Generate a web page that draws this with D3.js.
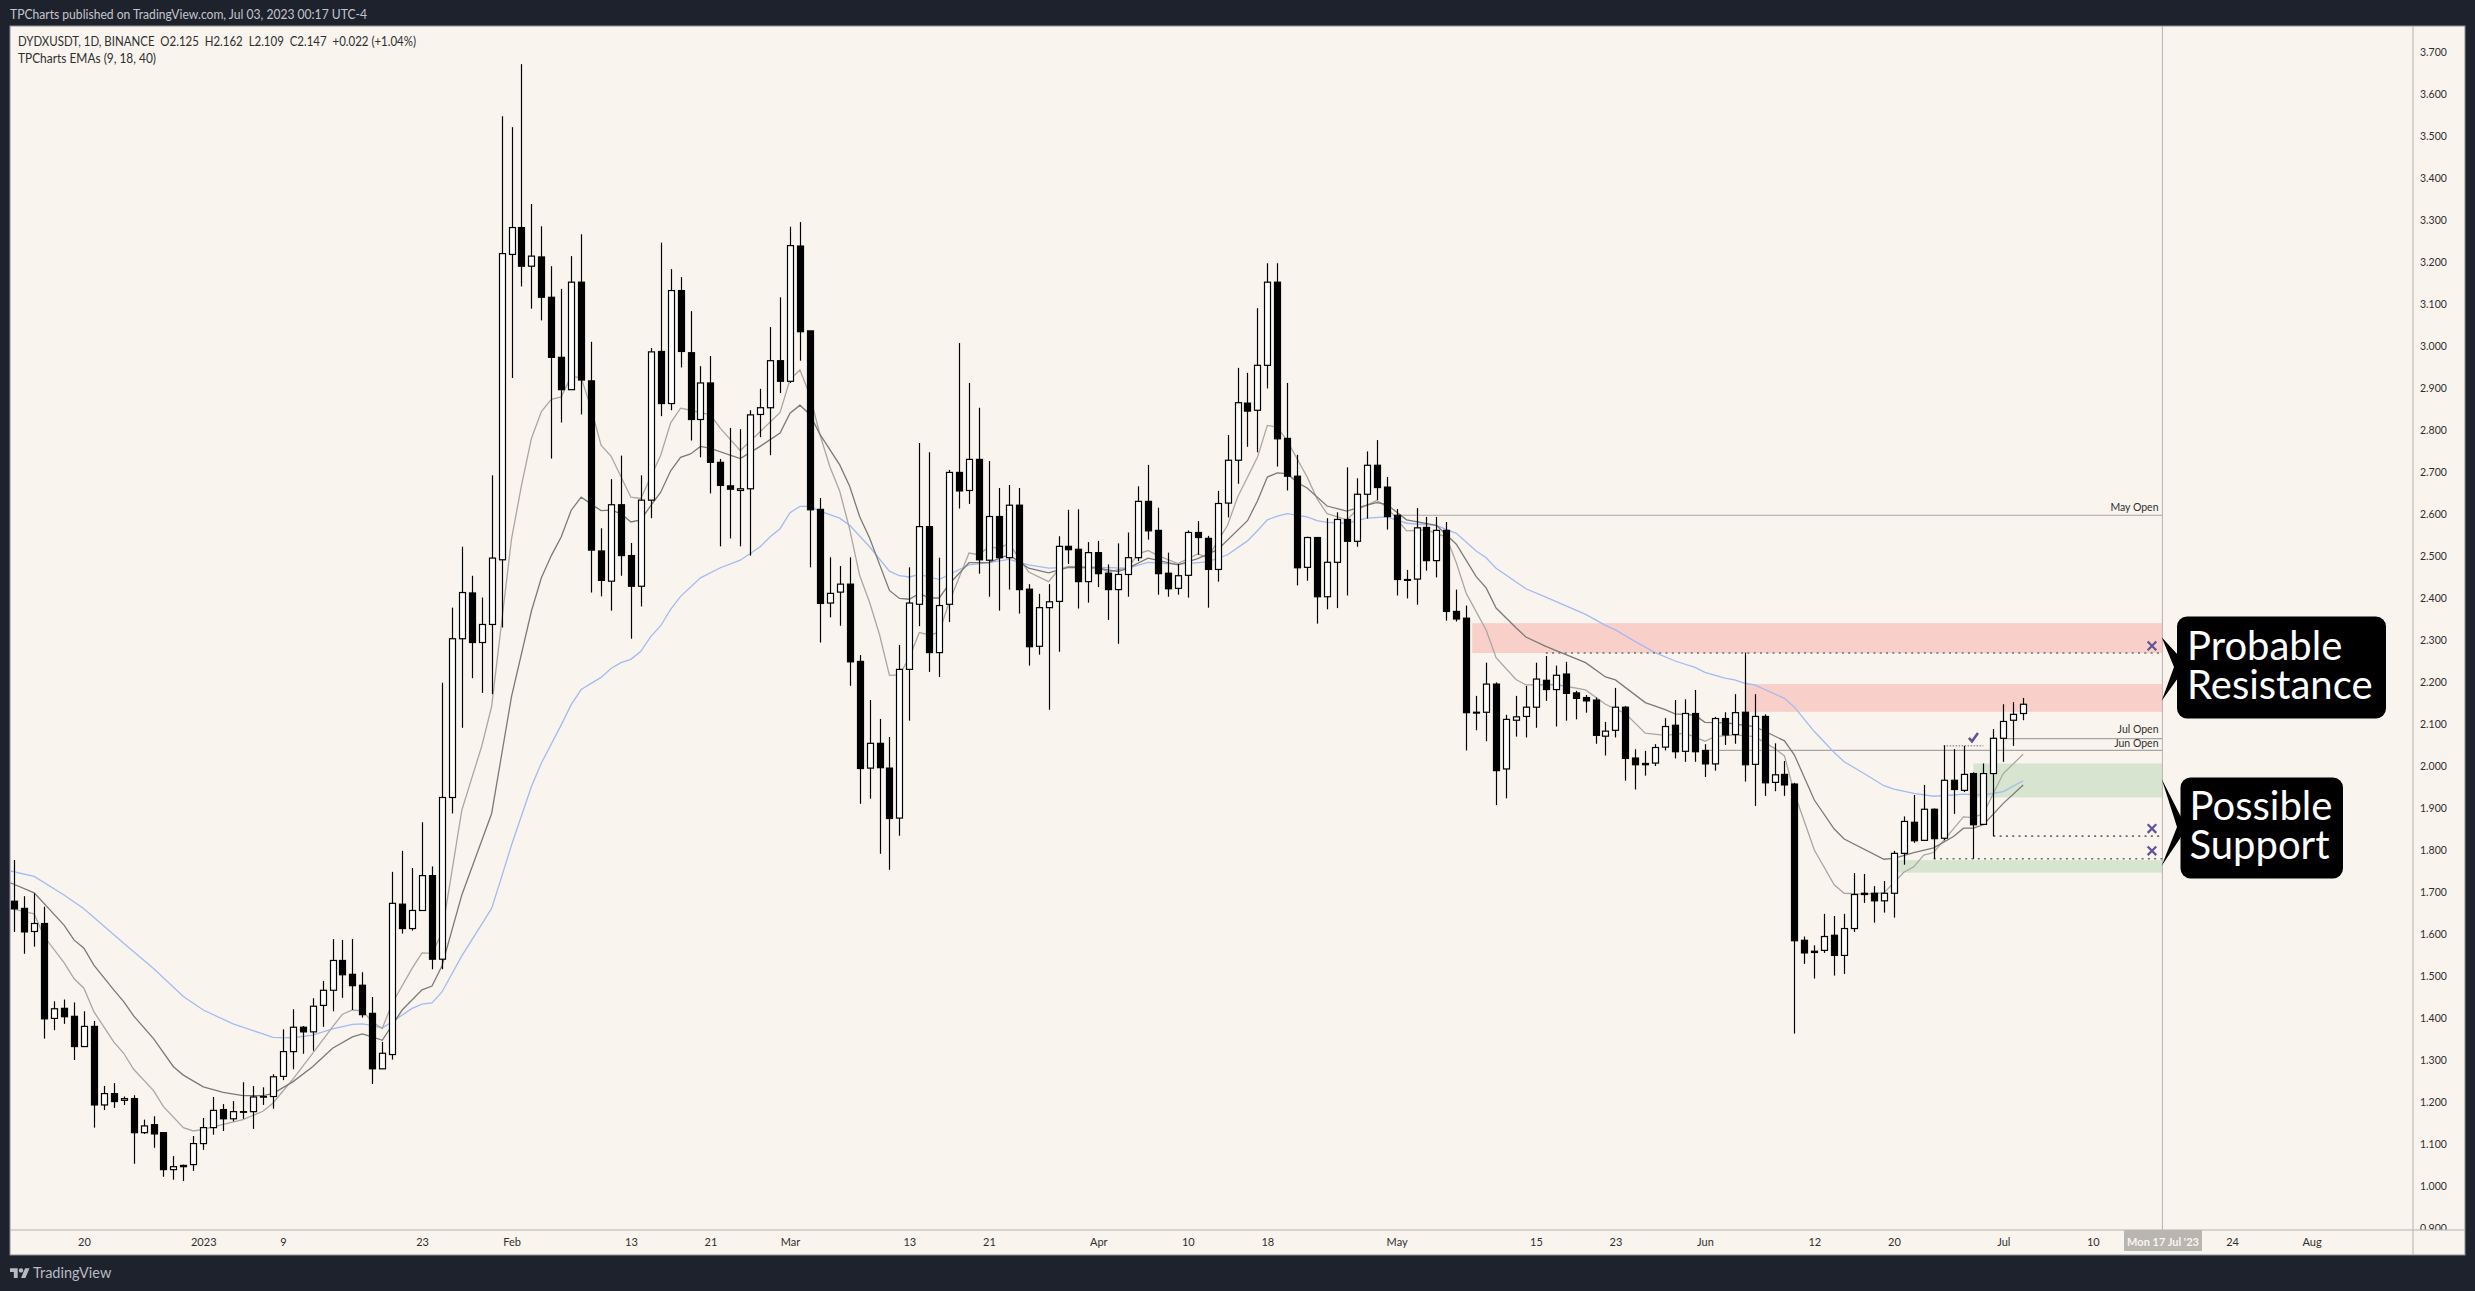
<!DOCTYPE html>
<html lang="en">
<head>
<meta charset="UTF-8">
<title>DYDXUSDT 1D</title>
<script src="https://d3js.org/d3.v7.min.js"></script>
<style>
  html, body { margin: 0; padding: 0; background: #1e222d; }
  svg { display: block; }
  text { font-family: Lato, "Open Sans", sans-serif; }
</style>
</head>
<body>
<svg id="chart"></svg>
<script>
// candles, one per day starting at firstDay
const firstDay = new Date(Date.UTC(2022, 11, 13));

const opens = [
  1.678,1.661,1.606,1.625,1.399,1.423,1.404,1.332,1.380,1.193,
  1.220,1.204,1.208,1.127,1.146,1.127,1.039,1.049,1.051,1.101,
  1.139,1.182,1.160,1.177,1.177,1.213,1.213,1.261,1.320,1.378,
  1.367,1.430,1.466,1.537,1.504,1.478,1.411,1.279,1.313,1.671,
  1.613,1.656,1.739,1.540,1.925,2.303,2.412,2.294,2.337,2.491,
  3.218,3.282,3.190,3.212,3.116,2.973,2.896,3.152,2.917,2.512,
  2.440,2.622,2.501,2.428,2.633,2.987,2.863,3.132,2.984,2.825,
  2.912,2.723,2.667,2.656,2.660,2.837,2.853,2.965,2.916,3.238,
  3.036,2.611,2.388,2.414,2.433,2.249,1.995,2.054,1.995,1.876,
  2.230,2.385,2.570,2.270,2.385,2.699,2.656,2.730,2.490,2.594,
  2.496,2.621,2.421,2.285,2.377,2.392,2.523,2.516,2.439,2.508,
  2.459,2.420,2.456,2.496,2.630,2.561,2.459,2.423,2.454,2.556,
  2.542,2.468,2.626,2.728,2.864,2.847,2.954,3.152,2.780,2.690,
  2.473,2.544,2.403,2.485,2.587,2.535,2.647,2.716,2.664,2.597,
  2.444,2.445,2.568,2.489,2.561,2.368,2.352,2.128,2.128,2.195,
  1.993,2.109,2.118,2.140,2.204,2.182,2.219,2.174,2.163,2.157,
  2.071,2.085,2.140,2.019,2.006,2.007,2.045,2.097,2.035,2.125,
  2.037,2.005,2.113,2.075,2.128,2.004,2.118,1.961,1.980,1.957,
  1.585,1.559,1.561,1.597,1.549,1.613,1.697,1.697,1.679,1.697,
  1.792,1.866,1.823,1.897,1.828,1.966,1.942,1.982,1.861,1.982,
  2.066,2.109,2.125
];
const highs = [
  1.776,1.690,1.697,1.665,1.440,1.444,1.437,1.416,1.393,1.238,
  1.245,1.213,1.216,1.158,1.166,1.128,1.071,1.051,1.119,1.162,
  1.212,1.195,1.202,1.247,1.238,1.235,1.266,1.373,1.421,1.381,
  1.447,1.488,1.588,1.586,1.588,1.509,1.450,1.343,1.748,1.798,
  1.757,1.866,1.761,2.198,2.377,2.522,2.453,2.401,2.692,3.547,
  3.521,3.671,3.338,3.285,3.190,3.136,3.214,3.266,3.010,2.566,
  2.683,2.739,2.531,2.692,2.995,3.246,3.183,3.164,3.083,2.952,
  2.976,2.731,2.805,2.802,2.847,2.898,3.045,3.116,3.284,3.295,
  3.036,2.638,2.497,2.476,2.497,2.264,2.157,2.112,2.069,2.288,
  2.473,2.769,2.747,2.496,2.705,3.007,2.912,2.853,2.726,2.662,
  2.669,2.662,2.433,2.410,2.433,2.547,2.610,2.611,2.533,2.536,
  2.480,2.530,2.556,2.666,2.717,2.615,2.508,2.481,2.561,2.583,
  2.548,2.655,2.788,2.948,2.936,3.090,3.197,3.197,2.912,2.741,
  2.546,2.545,2.590,2.604,2.711,2.685,2.749,2.776,2.688,2.612,
  2.467,2.614,2.593,2.593,2.581,2.420,2.382,2.167,2.246,2.199,
  2.122,2.167,2.191,2.246,2.262,2.239,2.248,2.179,2.169,2.163,
  2.105,2.186,2.143,2.040,2.036,2.052,2.114,2.157,2.159,2.181,
  2.052,2.117,2.128,2.171,2.270,2.171,2.123,2.054,2.012,1.960,
  1.594,1.573,1.648,1.643,1.648,1.745,1.743,1.714,1.726,1.798,
  1.880,1.931,1.955,1.899,2.049,2.040,2.048,1.985,2.006,2.088,
  2.147,2.152,2.162
];
const lows = [
  1.605,1.553,1.570,1.351,1.371,1.386,1.300,1.332,1.139,1.181,
  1.186,1.193,1.053,1.124,1.091,1.022,1.015,1.012,1.036,1.086,
  1.122,1.131,1.154,1.160,1.136,1.193,1.184,1.252,1.278,1.315,
  1.322,1.379,1.416,1.448,1.419,1.401,1.243,1.279,1.301,1.601,
  1.608,1.656,1.516,1.516,1.887,2.091,2.209,2.174,2.171,2.330,
  2.924,3.142,3.089,3.061,2.732,2.818,2.896,2.837,2.413,2.404,
  2.370,2.453,2.303,2.380,2.590,2.833,2.847,2.949,2.775,2.735,
  2.649,2.523,2.542,2.523,2.501,2.783,2.740,2.888,2.912,2.965,
  2.473,2.294,2.354,2.334,2.191,1.910,1.922,1.791,1.753,1.834,
  2.108,2.333,2.224,2.212,2.343,2.613,2.624,2.458,2.403,2.370,
  2.420,2.363,2.239,2.265,2.134,2.272,2.481,2.375,2.389,2.426,
  2.348,2.291,2.403,2.488,2.539,2.408,2.403,2.408,2.401,2.503,
  2.377,2.439,2.592,2.672,2.760,2.747,2.899,2.713,2.656,2.430,
  2.441,2.339,2.373,2.376,2.406,2.522,2.589,2.633,2.563,2.406,
  2.399,2.384,2.465,2.449,2.346,2.344,2.037,2.085,2.059,1.907,
  1.923,2.070,2.068,2.091,2.155,2.094,2.108,2.111,2.127,2.053,
  2.025,2.068,1.965,1.944,1.977,2.000,2.037,2.018,2.010,2.010,
  1.974,1.989,2.050,2.053,1.963,1.905,1.929,1.940,1.929,1.363,
  1.529,1.494,1.555,1.501,1.505,1.605,1.674,1.627,1.651,1.639,
  1.765,1.817,1.823,1.779,1.823,1.886,1.938,1.779,1.861,1.833,
  2.010,2.048,2.109
];
const closes = [
  1.660,1.605,1.625,1.398,1.422,1.403,1.332,1.380,1.193,1.220,
  1.201,1.208,1.127,1.143,1.124,1.039,1.046,1.046,1.101,1.139,
  1.180,1.160,1.177,1.176,1.212,1.212,1.260,1.320,1.378,1.367,
  1.428,1.466,1.537,1.503,1.477,1.408,1.279,1.316,1.673,1.613,
  1.656,1.739,1.540,1.925,2.303,2.413,2.294,2.337,2.495,3.220,
  3.282,3.190,3.214,3.116,2.973,2.896,3.152,2.919,2.514,2.442,
  2.622,2.501,2.428,2.633,2.986,2.863,3.132,2.987,2.825,2.912,
  2.723,2.668,2.659,2.660,2.836,2.853,2.965,2.916,3.239,3.034,
  2.610,2.387,2.411,2.433,2.248,1.994,2.054,1.996,1.875,2.230,
  2.388,2.570,2.270,2.382,2.699,2.655,2.730,2.491,2.594,2.496,
  2.621,2.420,2.284,2.377,2.391,2.523,2.515,2.439,2.508,2.458,
  2.420,2.456,2.496,2.630,2.560,2.458,2.422,2.453,2.556,2.544,
  2.468,2.625,2.728,2.865,2.845,2.954,3.152,2.779,2.690,2.472,
  2.544,2.403,2.485,2.587,2.535,2.647,2.716,2.663,2.594,2.444,
  2.442,2.567,2.489,2.561,2.368,2.350,2.127,2.126,2.195,1.989,
  2.111,2.117,2.140,2.207,2.182,2.216,2.173,2.161,2.155,2.073,
  2.083,2.140,2.018,2.003,2.003,2.044,2.094,2.034,2.125,2.034,
  2.005,2.113,2.074,2.127,2.003,2.118,1.960,1.979,1.955,1.584,
  1.555,1.556,1.594,1.549,1.613,1.694,1.694,1.679,1.697,1.792,
  1.868,1.822,1.897,1.827,1.966,1.944,1.980,1.860,1.982,2.066,
  2.106,2.123,2.147
];

// EMAs as [day since firstDay, price]
const ema9 = [[-0.4,1.661],[2,1.648],[3,1.594],[5,1.532],[6,1.494],[7,1.471],[8,1.415],[10,1.343],[11,1.316],[12,1.278],[14,1.227],[15,1.189],[17,1.139],[18,1.131],[19,1.135],[21,1.147],[23,1.158],[25,1.178],[26,1.197],[28,1.254],[30,1.316],[32,1.379],[33,1.409],[34,1.419],[35,1.417],[36,1.391],[37,1.375],[38,1.435],[40,1.518],[41,1.555],[42,1.554],[43,1.603],[45,1.895],[47,2.047],[48,2.142],[49,2.342],[50,2.541],[51,2.668],[52,2.780],[53,2.844],[54,2.873],[55,2.879],[56,2.928],[57,2.924],[58,2.852],[59,2.764],[60,2.738],[62,2.640],[63,2.637],[65,2.740],[66,2.817],[67,2.852],[68,2.847],[70,2.836],[71,2.804],[73,2.751],[75,2.796],[77,2.842],[78,2.920],[79,2.943],[80,2.883],[81,2.790],[82,2.713],[83,2.654],[84,2.564],[85,2.454],[86,2.390],[87,2.313],[88,2.216],[89,2.217],[90,2.258],[91,2.318],[92,2.312],[93,2.318],[94,2.390],[96,2.507],[97,2.503],[98,2.522],[99,2.518],[100,2.530],[101,2.496],[102,2.462],[104,2.439],[105,2.467],[106,2.475],[109,2.473],[110,2.462],[112,2.472],[113,2.505],[114,2.513],[115,2.501],[117,2.482],[119,2.505],[120,2.496],[122,2.573],[123,2.640],[125,2.735],[126,2.811],[127,2.807],[128,2.774],[130,2.688],[131,2.636],[132,2.601],[134,2.586],[135,2.610],[137,2.632],[138,2.617],[140,2.560],[142,2.562],[144,2.545],[145,2.484],[146,2.411],[148,2.324],[149,2.258],[151,2.206],[152,2.193],[155,2.194],[158,2.181],[160,2.147],[162,2.125],[164,2.078],[166,2.073],[168,2.078],[170,2.059],[171,2.070],[173,2.074],[175,2.070],[177,2.042],[178,2.024],[179,1.935],[181,1.800],[183,1.717],[184,1.697],[186,1.695],[188,1.698],[190,1.747],[191,1.760],[192,1.788],[193,1.794],[196,1.879],[197,1.877],[198,1.887],[200,1.982],[202,2.028]];
const ema18 = [[-0.4,1.722],[2,1.698],[5,1.621],[6,1.586],[7,1.566],[8,1.526],[10,1.467],[11,1.439],[12,1.405],[14,1.351],[16,1.284],[17,1.264],[19,1.236],[21,1.223],[23,1.215],[25,1.215],[26,1.220],[28,1.248],[30,1.284],[32,1.328],[34,1.355],[35,1.362],[36,1.355],[37,1.347],[38,1.383],[39,1.419],[41,1.467],[42,1.476],[43,1.524],[45,1.693],[48,1.887],[50,2.166],[52,2.369],[53,2.448],[54,2.501],[55,2.546],[56,2.609],[57,2.640],[59,2.608],[60,2.609],[61,2.601],[62,2.581],[63,2.586],[64,2.620],[65,2.652],[66,2.703],[67,2.735],[68,2.743],[69,2.761],[70,2.756],[73,2.732],[75,2.761],[77,2.793],[78,2.840],[79,2.859],[80,2.837],[81,2.790],[83,2.717],[84,2.666],[85,2.594],[86,2.543],[88,2.418],[89,2.399],[90,2.397],[91,2.411],[92,2.400],[93,2.400],[94,2.433],[96,2.484],[98,2.484],[100,2.503],[102,2.471],[104,2.460],[106,2.473],[109,2.471],[111,2.463],[112,2.471],[114,2.495],[117,2.479],[119,2.494],[121,2.515],[124,2.584],[125,2.631],[126,2.688],[127,2.698],[128,2.696],[129,2.675],[130,2.662],[132,2.619],[134,2.607],[136,2.621],[137,2.627],[138,2.623],[140,2.586],[143,2.573],[145,2.528],[147,2.451],[148,2.424],[149,2.376],[151,2.329],[152,2.307],[154,2.285],[158,2.246],[160,2.212],[161,2.205],[164,2.151],[166,2.134],[167,2.124],[169,2.121],[170,2.104],[172,2.103],[175,2.094],[178,2.060],[179,2.026],[181,1.919],[183,1.850],[184,1.826],[188,1.778],[189,1.780],[191,1.794],[193,1.805],[195,1.832],[196,1.852],[197,1.852],[198,1.860],[200,1.911],[202,1.955]];
const ema40 = [[-0.4,1.750],[2,1.737],[5,1.693],[7,1.660],[11,1.578],[14,1.518],[17,1.451],[19,1.419],[22,1.386],[25,1.362],[26,1.354],[28,1.353],[30,1.359],[32,1.374],[34,1.385],[35,1.386],[36,1.382],[37,1.376],[38,1.391],[40,1.423],[41,1.433],[42,1.436],[43,1.462],[45,1.548],[48,1.661],[49,1.736],[50,1.812],[52,1.951],[53,2.007],[55,2.098],[56,2.146],[57,2.182],[59,2.211],[60,2.232],[61,2.246],[62,2.254],[63,2.273],[64,2.308],[65,2.334],[66,2.373],[67,2.404],[69,2.448],[71,2.472],[73,2.490],[75,2.522],[76,2.546],[77,2.565],[78,2.603],[79,2.618],[80,2.618],[81,2.607],[83,2.590],[84,2.573],[86,2.522],[88,2.464],[89,2.453],[90,2.450],[91,2.456],[93,2.444],[94,2.456],[96,2.479],[98,2.484],[100,2.492],[102,2.479],[104,2.471],[106,2.473],[109,2.473],[112,2.471],[114,2.485],[117,2.480],[120,2.486],[122,2.503],[124,2.536],[125,2.560],[126,2.586],[127,2.595],[128,2.601],[130,2.593],[131,2.584],[132,2.580],[134,2.578],[136,2.590],[138,2.593],[140,2.578],[143,2.573],[145,2.554],[147,2.512],[148,2.496],[149,2.471],[152,2.422],[154,2.402],[158,2.361],[160,2.335],[161,2.324],[163,2.296],[165,2.270],[167,2.250],[169,2.235],[170,2.223],[172,2.209],[173,2.205],[174,2.197],[175,2.193],[178,2.161],[179,2.140],[181,2.082],[183,2.032],[184,2.010],[186,1.982],[188,1.953],[189,1.945],[191,1.935],[193,1.928],[195,1.931],[196,1.933],[198,1.931],[200,1.939],[202,1.965]];

// drawn levels: first day of the drawing, prices
const resistanceZones = [[146.6, 2.340, 2.269], [174, 2.195, 2.129]];
const supportZones = [[197, 2.006, 1.925], [189.3, 1.776, 1.746]];
const openLines = [[139, 2.597, "May Open"], [200, 2.065, "Jul Open"], [170, 2.037, "Jun Open"]];
const dottedLines = [[154, 2.269], [199, 1.833], [193, 1.779]];
const crossPrices = [2.286, 1.851, 1.798];

const priceTicks = d3.range(9, 38).map(d => d / 10);
const timeTicks = ["2022-12-20","2023-01-01","2023-01-09","2023-01-23","2023-02-01","2023-02-13","2023-02-21","2023-03-01","2023-03-13","2023-03-21","2023-04-01","2023-04-10","2023-04-18","2023-05-01","2023-05-15","2023-05-23","2023-06-01","2023-06-12","2023-06-20","2023-07-01","2023-07-10","2023-07-24","2023-08-01"];
const timeLabels = ["20","2023","9","23","Feb","13","21","Mar","13","21","Apr","10","18","May","15","23","Jun","12","20","Jul","10","24","Aug"];

const width = 2475, height = 1291;
const panel = {left: 10, top: 26, right: 2465, bottom: 1255, axisX: 2413, axisY: 1230, lastDayX: 2162.4};
const paper = "#f9f4ee", axisGrey = "#b4b2ad", textDark = "#2f2f2f", purple = "#5f5498";

const dayAt = d => new Date(firstDay.getTime() + d * 864e5);
const x = d3.scaleUtc().domain([dayAt(0), dayAt(216)]).range([14.3, panel.lastDayX]);
const y = d3.scaleLinear().domain([0.9, 3.7]).range([1228, 52]);

const svg = d3.select("#chart").attr("width", width).attr("height", height);

svg.append("rect").attr("width", width).attr("height", height).attr("fill", "#1e222d");
svg.append("rect")
  .attr("x", panel.left).attr("y", panel.top)
  .attr("width", panel.right - panel.left).attr("height", panel.bottom - panel.top)
  .attr("fill", paper).attr("stroke", "#8c8e92");

const defs = svg.append("defs");
defs.append("clipPath").attr("id", "plot").append("rect")
  .attr("x", panel.left).attr("y", panel.top)
  .attr("width", panel.axisX - panel.left).attr("height", panel.axisY - panel.top);
defs.append("clipPath").attr("id", "price-clip").append("rect")
  .attr("x", panel.axisX).attr("y", panel.top)
  .attr("width", panel.right - panel.axisX).attr("height", panel.axisY - panel.top);

const plot = svg.append("g").attr("clip-path", "url(#plot)");

// zones
const zoneRight = panel.lastDayX;
function drawZones(rows, color) {
  plot.selectAll(null).data(rows).join("rect")
    .attr("x", d => x(dayAt(d[0])))
    .attr("y", d => y(d[1]))
    .attr("width", d => zoneRight - x(dayAt(d[0])))
    .attr("height", d => y(d[2]) - y(d[1]))
    .attr("fill", color);
}
drawZones(resistanceZones, "#f9cfca");
drawZones(supportZones, "#d7e5d0");

// month open lines
plot.selectAll(null).data(openLines).join("line")
  .attr("x1", d => x(dayAt(d[0]))).attr("x2", zoneRight)
  .attr("y1", d => y(d[1])).attr("y2", d => y(d[1]))
  .attr("stroke", "#a6a5a3").attr("stroke-width", 1.2);

plot.append("line")
  .attr("x1", zoneRight).attr("x2", zoneRight)
  .attr("y1", panel.top).attr("y2", panel.axisY)
  .attr("stroke", axisGrey);

// EMAs sit behind the candles
const emaLine = d3.line().x(d => x(dayAt(d[0]))).y(d => y(d[1]));
[[ema40, "#a3baf2", 1.3], [ema9, "#a9a7a4", 1.3], [ema18, "#7b7a7a", 1.3]].forEach(([rows, color, w]) => {
  plot.append("path").datum(rows).attr("d", emaLine)
    .attr("fill", "none").attr("stroke", color).attr("stroke-width", w);
});

// dotted levels
plot.selectAll(null).data(dottedLines).join("line")
  .attr("x1", d => x(dayAt(d[0]))).attr("x2", zoneRight)
  .attr("y1", d => y(d[1])).attr("y2", d => y(d[1]))
  .attr("stroke", "#6d6c6b").attr("stroke-width", 1.6).attr("stroke-dasharray", "2 4.3");
plot.append("line")
  .attr("x1", x(dayAt(194))).attr("x2", x(dayAt(198)))
  .attr("y1", y(2.048)).attr("y2", y(2.048))
  .attr("stroke", "#6d6c6b").attr("stroke-width", 1).attr("stroke-dasharray", "1.5 1.5");

// candles
const candles = opens.map((o, i) => ({day: i, o, h: highs[i], l: lows[i], c: closes[i]}));
const cx = d => Math.round(x(dayAt(d.day))) + 0.5;
const candle = plot.selectAll("g.candle").data(candles).join("g").attr("class", "candle");
candle.append("line")
  .attr("x1", cx).attr("x2", cx)
  .attr("y1", d => y(d.h)).attr("y2", d => y(d.l))
  .attr("stroke", "#000").attr("stroke-width", 1.2);
candle.append("rect")
  .attr("x", d => cx(d) - 3)
  .attr("y", d => y(Math.max(d.o, d.c)))
  .attr("width", 6)
  .attr("height", d => Math.max(Math.abs(y(d.o) - y(d.c)), 0.6))
  .attr("fill", d => d.c >= d.o ? "#fff" : "#000")
  .attr("stroke", "#000").attr("stroke-width", 1.2);

// markers
const marks = svg.append("g").attr("stroke", purple).attr("fill", "none").attr("stroke-width", 2.2);
crossPrices.forEach(p => {
  const mx = x(dayAt(215)) - 0.5, my = y(p), r = 4.3;
  marks.append("path").attr("d", `M${mx - r},${my - r}L${mx + r},${my + r}M${mx + r},${my - r}L${mx - r},${my + r}`);
});
const checkX = x(dayAt(197)), checkY = y(2.068);
marks.append("path")
  .attr("d", `M${checkX - 4.5},${checkY + 0.5}L${checkX - 1.5},${checkY + 4}L${checkX + 4.5},${checkY - 4.5}`)
  .attr("stroke-width", 2.6);

// open labels
svg.selectAll(null).data([["May Open", 507.7], ["Jul Open", 729.7], ["Jun Open", 743.4]]).join("text")
  .attr("x", 2158.5).attr("y", d => d[1]).attr("dy", "0.35em")
  .attr("text-anchor", "end").attr("font-size", 10.5).attr("fill", textDark)
  .text(d => d[0]);

// axes
const priceAxis = d3.axisRight(y).tickValues(priceTicks).tickSize(0).tickPadding(7).tickFormat(d3.format(".3f"));
const priceG = svg.append("g").attr("clip-path", "url(#price-clip)").append("g")
  .attr("transform", `translate(${panel.axisX},0)`).call(priceAxis);
priceG.select(".domain").remove();
priceG.selectAll("text").attr("font-size", 10.5).attr("fill", textDark).attr("font-family", null);

const tickDates = timeTicks.map(d => new Date(d + "T00:00:00Z"));
const timeAxis = d3.axisBottom(x).tickValues(tickDates).tickSize(0).tickPadding(8)
  .tickFormat((d, i) => timeLabels[i]);
const timeG = svg.append("g").attr("transform", `translate(0,${panel.axisY})`).call(timeAxis);
timeG.select(".domain").remove();
timeG.selectAll("text").attr("font-size", 11).attr("fill", textDark).attr("font-family", null);

svg.append("line").attr("x1", panel.left).attr("x2", panel.right)
  .attr("y1", panel.axisY).attr("y2", panel.axisY).attr("stroke", axisGrey);
svg.append("line").attr("x1", panel.axisX).attr("x2", panel.axisX)
  .attr("y1", panel.top).attr("y2", panel.bottom).attr("stroke", axisGrey);

// crosshair date label
svg.append("rect").attr("x", 2124).attr("y", 1230).attr("width", 78).attr("height", 21)
  .attr("rx", 1).attr("fill", "#b9b6b0");
svg.append("text").attr("x", 2163).attr("y", 1242.5).attr("dy", "0.35em")
  .attr("text-anchor", "middle").attr("font-size", 11).attr("font-weight", 700)
  .attr("fill", paper).text("Mon 17 Jul '23");

// callouts, two lines in one text element
function callout(box, tail, textX, baseline, lines) {
  svg.append("polygon").attr("points", tail.join(" ")).attr("fill", "#000");
  svg.append("rect").attr("x", box[0]).attr("y", box[1])
    .attr("width", box[2] - box[0]).attr("height", box[3] - box[1])
    .attr("rx", 10).attr("fill", "#000");
  const t = svg.append("text").attr("x", textX).attr("y", baseline)
    .attr("font-size", 40).attr("fill", "#fff");
  t.append("tspan").attr("x", textX).text(lines[0]);
  t.append("tspan").attr("x", textX).attr("dy", 39.6).text(lines[1]);
}
callout([2177, 616.5, 2386, 718.5],
  [[2161.7, 637.3], [2178, 655], [2178, 678], [2161.7, 700.7], [2174, 667]],
  2187, 659.6, ["Probable", "Resistance"]);
callout([2180.5, 777.5, 2343, 878.5],
  [[2161.7, 779], [2181, 817], [2181, 837], [2161.7, 865.7], [2177, 827]],
  2189.5, 819.6, ["Possible", "Support"]);

// header and legend, widths fitted to the picture
svg.append("text").attr("x", 10).attr("y", 14.7).attr("dy", "0.35em")
  .attr("font-size", 12.5).attr("fill", "#c3c5cb")
  .attr("textLength", 357).attr("lengthAdjust", "spacingAndGlyphs")
  .text("TPCharts published on TradingView.com, Jul 03, 2023 00:17 UTC-4");
const legendRows = [
  ["DYDXUSDT, 1D, BINANCE\u00a0\u00a0O2.125\u00a0\u00a0H2.162\u00a0\u00a0L2.109\u00a0\u00a0C2.147\u00a0\u00a0+0.022 (+1.04%)", 41.7, 398],
  ["TPCharts EMAs (9, 18, 40)", 59, 138]
];
svg.selectAll(null).data(legendRows).join("text")
  .attr("x", 18).attr("y", d => d[1]).attr("dy", "0.35em")
  .attr("font-size", 12.5).attr("fill", textDark)
  .attr("textLength", d => d[2]).attr("lengthAdjust", "spacingAndGlyphs")
  .text(d => d[0]);

// footer logo
const logo = svg.append("g").attr("transform", "translate(10,1266) scale(0.55)").attr("fill", "#b8bac0");
logo.append("path").attr("d", "M14 22H7V11H0V4h14v18zM28 22h-8l7.5-18h8L28 22z");
logo.append("circle").attr("cx", 20).attr("cy", 8).attr("r", 4);
svg.append("text").attr("x", 33).attr("y", 1273).attr("dy", "0.35em")
  .attr("font-size", 14.5).attr("fill", "#b8bac0").text("TradingView");
</script>
</body>
</html>
